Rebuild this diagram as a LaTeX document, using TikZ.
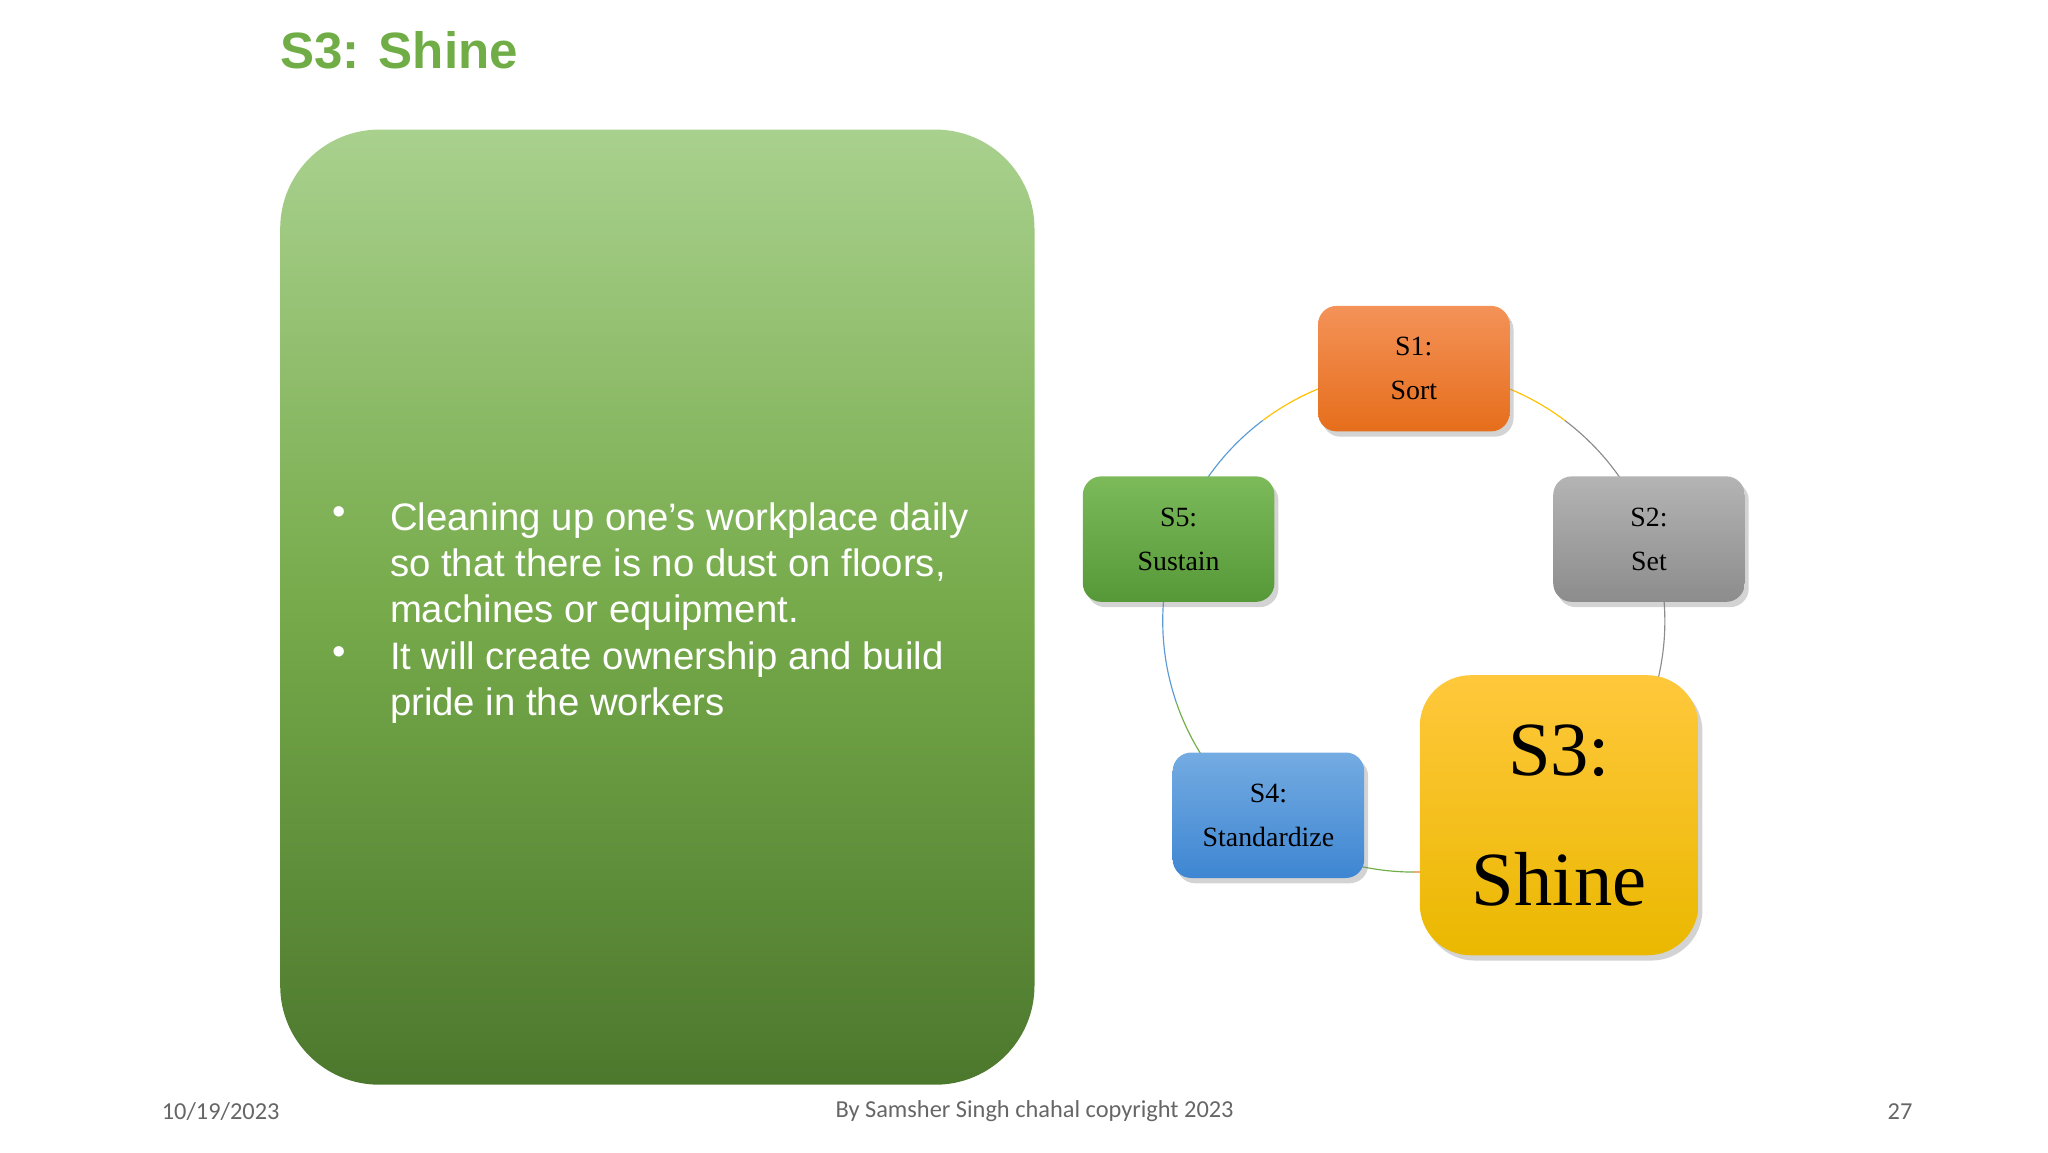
\documentclass[tikz,border=0pt]{standalone}
\usepackage{fontspec}
\setmainfont{Liberation Serif}
\setsansfont{Liberation Sans}
\newfontfamily\foot{Carlito}
\usetikzlibrary{shadows}
\definecolor{tgreen}{RGB}{112,173,71}
\tikzset{
  sbox/.style={rounded corners=8pt, minimum width=2.9cm, minimum height=1.9cm, align=center, font=\fontsize{12}{19}\selectfont, drop shadow={opacity=0.35,shadow xshift=0.06cm,shadow yshift=-0.08cm}},
  arcl/.style={line width=0.5pt},
  foottext/.style={font=\foot\fontsize{10.5}{12}\selectfont, text=black!60}
}
\begin{document}
\begin{tikzpicture}[x=0.02cm,y=-0.02cm]
\useasboundingbox (0,0) rectangle (1550,872);
\node[anchor=west, font=\sffamily\bfseries\fontsize{22}{26}\selectfont, text=tgreen] (title) at (206,38) {S3: Shine};
\node[rounded corners=1.5cm, minimum width=11.42cm, minimum height=14.46cm, top color={rgb,255:red,169;green,209;blue,142}, bottom color={rgb,255:red,76;green,120;blue,45}, middle color={rgb,255:red,118;green,170;blue,74}] (panel) at (497.5,459.5) {};
\node[anchor=north west, text=white, font=\sffamily\fontsize{16.5}{20}\selectfont, align=left] (t1) at (289,374) {Cleaning up one’s workplace daily\\so that there is no dust on floors,\\machines or equipment.\\It will create ownership and build\\pride in the workers};
\node[text=white, font=\sffamily\fontsize{16.5}{20}\selectfont] (d1) at (257,390) {•};
\node[text=white, font=\sffamily\fontsize{16.5}{20}\selectfont] (d2) at (257,496) {•};
% circle arcs
\coordinate (c) at (1070,470);
\draw[arcl, color={rgb,255:red,237;green,125;blue,49}] (c) ++(90:190) arc[start angle=90, end angle=19, radius=190];
\draw[arcl, color=black!45] (c) ++(19:190) arc[start angle=19, end angle=-53, radius=190];
\draw[arcl, color={rgb,255:red,255;green,192;blue,0}] (c) ++(-53:190) arc[start angle=-53, end angle=-127, radius=190];
\draw[arcl, color={rgb,255:red,91;green,155;blue,213}] (c) ++(233:190) arc[start angle=233, end angle=161, radius=190];
\draw[arcl, color=tgreen] (c) ++(161:190) arc[start angle=161, end angle=90, radius=190];
\node[sbox, top color={rgb,255:red,244;green,146;blue,88}, bottom color={rgb,255:red,230;green,110;blue,28}] (s1) at (1070,279) {S1:\\Sort};
\node[sbox, top color={rgb,255:red,180;green,180;blue,180}, bottom color={rgb,255:red,140;green,140;blue,140}] (s2) at (1248,408) {S2:\\Set};
\node[sbox, top color={rgb,255:red,116;green,171;blue,226}, bottom color={rgb,255:red,62;green,134;blue,210}] (s4) at (960,617) {S4:\\Standardize};
\node[sbox, top color={rgb,255:red,124;green,186;blue,90}, bottom color={rgb,255:red,86;green,152;blue,56}] (s5) at (892,408) {S5:\\Sustain};
\node[sbox, rounded corners=22pt, minimum width=4.22cm, minimum height=4.24cm, top color={rgb,255:red,255;green,200;blue,60}, middle color={rgb,255:red,255;green,200;blue,0}, bottom color={rgb,255:red,234;green,184;blue,0}, font=\fontsize{33}{56}\selectfont] (s3) at (1180,617) {S3:\\Shine};
\node[foottext] (f1) at (167,841) {10/19/2023};
\node[foottext] (f2) at (783,841) {By Samsher Singh chahal copyright 2023};
\node[foottext] (f3) at (1438,841) {27};
\end{tikzpicture}
\end{document}
